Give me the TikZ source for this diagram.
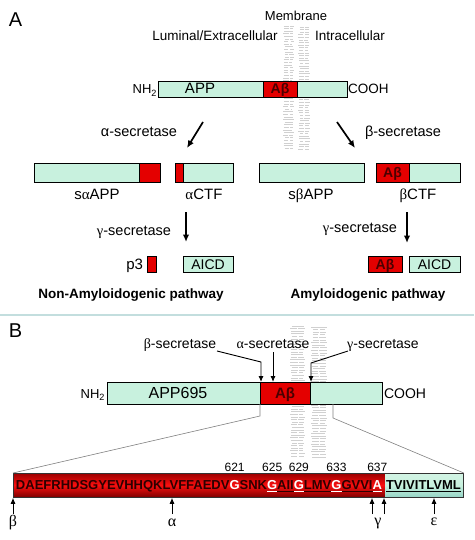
\documentclass[tikz,border=0pt]{standalone}
\usepackage{fontspec}
\setmainfont{Liberation Sans}
\newfontfamily\grk{Liberation Serif}
\usetikzlibrary{arrows.meta}
\definecolor{mint}{RGB}{200,241,222}
\definecolor{abred}{RGB}{228,0,0}
\definecolor{abtext}{RGB}{75,0,0}
\definecolor{seqdark}{RGB}{45,0,0}
\definecolor{sepcol}{RGB}{195,222,222}
\definecolor{memgray}{RGB}{208,208,208}
\definecolor{brightred}{RGB}{250,15,15}
\newcommand{\fs}[1]{\fontsize{#1}{#1}\selectfont}
\begin{document}
\begin{tikzpicture}[x=1pt,y=-1pt,
  bar/.style={draw=black, line width=0.9pt, fill=mint, inner sep=0pt, outer sep=0pt, anchor=north west},
  redseg/.style={draw=black, line width=0.9pt, fill=abred, inner sep=0pt, outer sep=0pt, anchor=north west},
  lbl/.style={inner sep=0pt, outer sep=0pt, font=\fs{14}},
  abl/.style={inner sep=0pt, outer sep=0pt, anchor=base, text=abtext, font=\bfseries\fs{14}},
  arrA/.style={line width=1.7pt, -{Latex[length=7.5pt,width=6.5pt]}},
  arrB/.style={line width=0.9pt, -{Latex[length=6pt,width=5pt]}},
  seq/.style={inner sep=0pt, outer sep=0pt, anchor=base west, font=\bfseries\fs{13}, text=seqdark},
  wseq/.style={seq, text=white},
  num/.style={inner sep=0pt, anchor=base, font=\fs{12}},
  zoomline/.style={gray, line width=0.6pt},
  memline/.style={memgray, line width=0.8pt},
]
\useasboundingbox (0,0) rectangle (474,540);

% ---------- membranes ----------
\pgfmathsetseed{3}
\foreach \yy in {26,28.6,...,149}{
  \draw[memline] ({283+2*rnd},\yy) -- ({288+1.5*rnd},\yy) ({289+1.5*rnd},\yy) -- ({294-2*rnd},\yy);
  \draw[memline] ({298+2*rnd},{\yy+1}) -- ({303+1.5*rnd},{\yy+1}) ({304+1.5*rnd},{\yy+1}) -- ({310-2*rnd},{\yy+1});
}
\foreach \yy in {326,328.6,...,457}{
  \draw[memline] ({290+2*rnd},\yy) -- ({297+1.5*rnd},\yy) ({298+1.5*rnd},\yy) -- ({305-2*rnd},\yy);
  \draw[memline] ({311+2*rnd},{\yy+1}) -- ({318+1.5*rnd},{\yy+1}) ({319+1.5*rnd},{\yy+1}) -- ({327-2*rnd},{\yy+1});
}

% ---------- Part A ----------
\node[lbl, font=\fs{20}, anchor=base west] (labA) at (9,27) {A};
\node[lbl, font=\fs{13}, anchor=base] (mem) at (296,21) {Membrane};
\node[lbl, font=\fs{13.5}, anchor=base] (lum) at (215,41) {Luminal/Extracellular};
\node[lbl, font=\fs{13.5}, anchor=base] (intra) at (350,41) {Intracellular};

\node[bar, minimum width=189, minimum height=16] (app) at (158,81) {};
\node[redseg, minimum width=34, minimum height=16] (abA) at (263,81) {};
\node[lbl, font=\fs{15}, anchor=base] (appt) at (200,94) {APP};
\node[abl] (abAt) at (280,94) {Aβ};
\node[lbl, font=\fs{13}, anchor=base east] (nh2A) at (157,94) {NH\textsubscript{2}};
\node[lbl, font=\fs{13.5}, anchor=base west] (coohA) at (348,94) {COOH};

\node[lbl, font=\fs{14.5}, anchor=base east] (asecA) at (177,137) {α-secretase};
\node[lbl, font=\fs{14.5}, anchor=base west] (bsecA) at (365,137) {β-secretase};
\coordinate (aS) at (203,122); \coordinate (aE) at (187,148);
\coordinate (bS) at (337,122); \coordinate (bE) at (355,148);
\draw[arrA] (aS) -- (aE);
\draw[arrA] (bS) -- (bE);

\node[bar, minimum width=126, minimum height=19] (sa) at (34,163) {};
\node[redseg, minimum width=21, minimum height=19] (sar) at (139,163) {};
\node[bar, minimum width=58, minimum height=19] (actf) at (175,163) {};
\node[redseg, minimum width=8, minimum height=19] (actfr) at (175,163) {};
\node[bar, minimum width=105, minimum height=19] (sb) at (259,163) {};
\node[bar, minimum width=84, minimum height=19] (bctf) at (376,163) {};
\node[redseg, minimum width=33, minimum height=19] (bctfr) at (376,163) {};
\node[abl] (bctft) at (392.5,177.5) {Aβ};

\node[lbl, font=\fs{15}, anchor=base] (saL) at (97,199) {s{\grk α}APP};
\node[lbl, font=\fs{15}, anchor=base] (actfL) at (204,199) {{\grk α}CTF};
\node[lbl, font=\fs{15}, anchor=base] (sbL) at (311,199) {s{\grk β}APP};
\node[lbl, font=\fs{15}, anchor=base] (bctfL) at (418,199) {{\grk β}CTF};

\node[lbl, font=\fs{14.5}, anchor=base] (gsecL) at (134,235) {\grk γ\normalfont-secretase};
\node[lbl, font=\fs{14.5}, anchor=base] (gsecR) at (360,232) {\grk γ\normalfont-secretase};
\coordinate (gLS) at (186,212); \coordinate (gLE) at (186,242);
\coordinate (gRS) at (407,212); \coordinate (gRE) at (407,243);
\draw[arrA] (gLS) -- (gLE);
\draw[arrA] (gRS) -- (gRE);

\node[lbl, font=\fs{15}, anchor=base east] (p3t) at (143,269) {p3};
\node[redseg, minimum width=9, minimum height=16] (p3) at (147,256) {};
\node[bar, minimum width=50, minimum height=16] (aicdL) at (183,256) {};
\node[lbl, font=\fs{14}, anchor=base] (aicdLt) at (208,269) {AICD};
\node[redseg, minimum width=34, minimum height=16] (abR) at (368,256) {};
\node[abl] (abRt) at (385,269) {Aβ};
\node[bar, minimum width=51, minimum height=16] (aicdR) at (409,256) {};
\node[lbl, font=\fs{14}, anchor=base] (aicdRt) at (434.5,269) {AICD};

\node[lbl, font=\bfseries\fs{13.5}, anchor=base] (nonamy) at (131,298) {Non-Amyloidogenic pathway};
\node[lbl, font=\bfseries\fs{13.5}, anchor=base] (amy) at (368,298) {Amyloidogenic pathway};

\draw[sepcol, line width=1.5pt] (0,315) -- (474,315);

% ---------- Part B ----------
\node[lbl, font=\fs{20}, anchor=base west] (labB) at (9,337) {B};
\node[lbl, font=\fs{14}, anchor=base] (bsecB) at (180,348) {\grk β\normalfont-secretase};
\node[lbl, font=\fs{14}, anchor=base] (asecB) at (273,348) {\grk α\normalfont-secretase};
\node[lbl, font=\fs{14}, anchor=base] (gsecB) at (383,348) {\grk γ\normalfont-secretase};

\node[bar, minimum width=275, minimum height=22] (app695) at (107,382) {};
\node[redseg, minimum width=50, minimum height=22] (abB) at (260,382) {};
\node[lbl, font=\fs{13}, anchor=base east] (nh2B) at (105,398) {NH\textsubscript{2}};
\node[lbl, font=\fs{16}, anchor=base] (app695t) at (178,398.5) {APP695};
\node[abl, font=\bfseries\fs{15}] (abBt) at (285,398.5) {Aβ};
\node[lbl, font=\fs{14}, anchor=base west] (coohB) at (384,398) {COOH};

\coordinate (bB1) at (217,351); \coordinate (bB2) at (261,362);
\coordinate (aB1) at (273,352);
\coordinate (gB1) at (348,351); \coordinate (gB2) at (311,363);
\draw[arrB] (bB1) -- (bB2) -- (bB2 |- app695.north);
\draw[arrB] (aB1) -- (aB1 |- app695.north);
\draw[arrB] (gB1) -- (gB2) -- (gB2 |- app695.north);

% sequence bar
\shade[top color=red!60!black, bottom color=red!50!black, middle color=brightred] (13,473) rectangle (385,497);
\shade[top color=mint!80!white, bottom color=mint!75!teal, middle color=mint] (385,473) rectangle (463,497);
\node[draw=black!80, line width=0.8pt, minimum width=450, minimum height=24, anchor=north west, inner sep=0pt] (seqbar) at (13,473) {};

\coordinate (zl1) at (260,416);
\coordinate (zr0) at (333,404);
\coordinate (zr1) at (333,418);
\draw[zoomline] (abB.south west) -- (zl1) -- (seqbar.north west);
\draw[zoomline] (zr0) -- (zr1) -- (seqbar.north east);

\node[seq] (s1) at (16,489.5) {DAEFRHDSGYEVHHQKLVFFAEDV};
\node[wseq] (g621) at (s1.base east) {G};
\node[seq] (s2) at (g621.base east) {SNK};
\node[wseq] (g625) at (s2.base east) {\underline{G}};
\node[seq] (s3) at (g625.base east) {\underline{AII}};
\node[wseq] (g629) at (s3.base east) {\underline{G}};
\node[seq] (s4) at (g629.base east) {\underline{LMV}};
\node[wseq] (g633) at (s4.base east) {\underline{G}};
\node[seq] (s5) at (g633.base east) {\underline{GVVI}};
\node[wseq] (a637) at (s5.base east) {\underline{A}};
\node[seq, text=black] (s6) at (386,489.5) {\underline{TVIVITLVML}};

\node[num] (n621) at ([yshift=9pt]g621.north) {621};
\node[num] (n625) at ([yshift=9pt]g625.north) {625};
\node[num] (n629) at ([yshift=9pt]g629.north) {629};
\node[num] (n633) at ([yshift=9pt]g633.north) {633};
\node[num] (n637) at ([yshift=9pt]a637.north) {637};

\foreach \nm/\xx in {cb/13, ca/172, cg1/372, cg2/384, ce/434}{
  \coordinate (\nm) at (\xx,514);
  \draw[arrB] (\nm) -- (\nm |- seqbar.south);
}
\node[lbl, font=\grk\fs{16}, anchor=base] (lb) at (13,526) {β};
\node[lbl, font=\grk\fs{16}, anchor=base] (la) at (172,526) {α};
\node[lbl, font=\grk\fs{16}, anchor=base] (lg) at (378,525) {γ};
\node[lbl, font=\grk\fs{16}, anchor=base] (le) at (434,525) {ε};
\end{tikzpicture}
\end{document}
